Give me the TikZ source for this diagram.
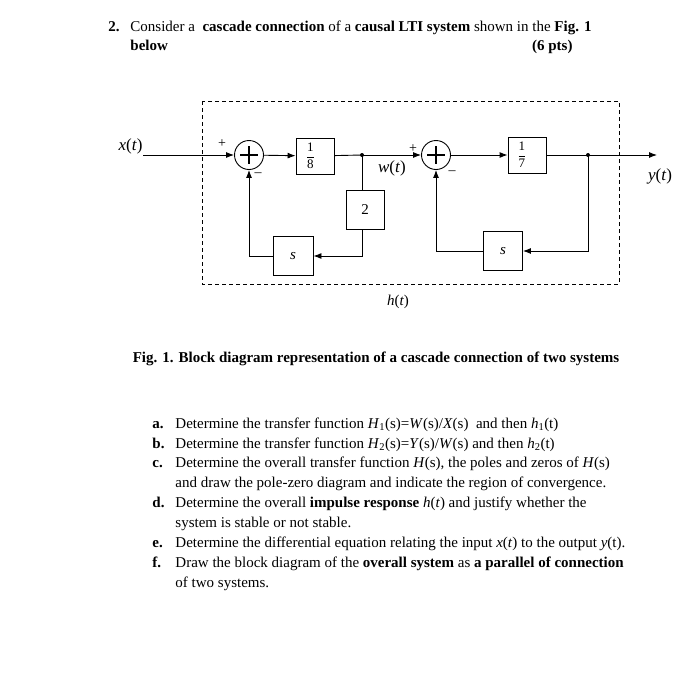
\documentclass[tikz,border=0pt]{standalone}
\usepackage{amsmath}
\usepackage{fontspec}
\setmainfont{Liberation Serif}
\usetikzlibrary{arrows.meta}

\begin{document}
\begin{tikzpicture}[x=1pt,y=-1pt,>={Latex[length=8pt,width=6pt]},line width=0.9pt,
  every node/.style={font=\fontsize{15}{18}\selectfont},
  txt/.style={anchor=base west,inner sep=0pt},
  blk/.style={draw,minimum width=38pt,minimum height=36pt,inner sep=0pt},
  frc/.style={blk,text width=18pt,inner xsep=9pt,align=left,font=\fontsize{13}{15}\selectfont},
  sum/.style={draw,circle,minimum size=29pt,inner sep=0pt,
    path picture={\draw[line width=1.1pt] (path picture bounding box.center) +(-9,0) -- +(9,0)
      (path picture bounding box.center) +(0,-9) -- +(0,9);}},
  sgn/.style={font=\fontsize{14}{16}\selectfont,inner sep=0pt},
  sig/.style={font=\fontsize{17}{19}\selectfont,inner sep=0pt}]
  \useasboundingbox (0,0) rectangle (700,672);

  % question
  \node[txt] (qnum) at (108,31) {\textbf{2.}};
  \node[txt] (qline) at (130,31) {Consider a~ \textbf{cascade connection} of a \textbf{causal LTI system} shown in the \textbf{Fig. 1}};
  \node[txt] (qbelow) at (130,50) {\textbf{below}};
  \node[anchor=base east,inner sep=0pt] (qpts) at (573,50) {\textbf{(6 pts)}};

  % first system
  \coordinate (xin) at (143,155);
  \node[sig,anchor=south east] (xlbl) at (xin) {\textit{x}(\textit{t})};
  \node[sum] (s1) at (249,155) {};
  \node[sgn] (p1) at (222,144) {+};
  \node[sgn] (m1) at (258,175) {--};
  \node[frc] (g1) at (315,156) {$\dfrac{\text{1}}{\rule{0pt}{10pt}\text{8}}$};
  \coordinate (j1) at (362,155);
  \node[blk,minimum height=39pt] (k1) at (365,210) {2};
  \node[blk,minimum width=40pt,minimum height=39pt] (d1) at (293,256) {\textit{s}};

  \draw[->] (xin) -- (s1);
  \draw[->] (s1) -- (g1);
  \draw (g1) -- (j1);
  \draw (j1) -- (j1 |- k1.north);
  \draw[->] (j1 |- k1.south) |- (d1);
  \draw[->] (d1) -| (s1);
  \fill (j1) circle (2pt);

  % second system
  \node[sum] (s2) at (436,155) {};
  \node[sgn] (p2) at (413,149) {+};
  \node[sgn] (m2) at (452,173) {--};
  \node[sig] (wlbl) at (392,168) {\textit{w}(\textit{t})};
  \node[frc,text width=19pt] (g2) at (527,155) {$\dfrac{\text{1}}{\rule{0pt}{10pt}\text{7}}$};
  \coordinate (j2) at (588,155);
  \coordinate (yout) at (657,155);
  \node[sig] (ylbl) at (660,176) {\textit{y}(\textit{t})};
  \node[blk,minimum width=39pt,minimum height=39pt] (d2) at (503,251) {\textit{s}};

  \draw[->] (j1) -- (s2);
  \draw[->] (s2) -- (g2);
  \draw[->] (g2) -- (yout);
  \draw[->] (j2) |- (d2);
  \draw[->] (d2) -| (s2);
  \fill (j2) circle (2pt);

  % overall system
  \draw[dash pattern=on 4pt off 3pt,line width=0.7pt] (202,101) rectangle (619,284);
  \node[sig,font=\fontsize{15}{17}\selectfont] (hlbl) at (398,302) {\textit{h}(\textit{t})};

  \node[anchor=base,inner sep=0pt] (cap) at (376,362) {\textbf{Fig. 1. Block diagram representation of a cascade connection of two systems}};

  % parts
  \foreach \lab/\yy in {a/428,b/448,c/467,d/507,e/547,f/567}
    \node[txt] (lab\lab) at (152,\yy) {\textbf{\lab.}};
  \node[txt] (ta) at (175,428) {Determine the transfer function \textit{H}\textsubscript{1}(s)=\textit{W}(s)/\textit{X}(s)~ and then \textit{h}\textsubscript{1}(t)};
  \node[txt] (tb) at (175,448) {Determine the transfer function \textit{H}\textsubscript{2}(s)=\textit{Y}(s)/\textit{W}(s) and then \textit{h}\textsubscript{2}(t)};
  \node[txt] (tc) at (175,467) {Determine the overall transfer function \textit{H}(s), the poles and zeros of \textit{H}(s)};
  \node[txt] (tc2) at (175,487) {and draw the pole-zero diagram and indicate the region of convergence.};
  \node[txt] (td) at (175,507) {Determine the overall \textbf{impulse response} \textit{h}(\textit{t}) and justify whether the};
  \node[txt] (td2) at (175,527) {system is stable or not stable.};
  \node[txt] (te) at (175,547) {Determine the differential equation relating the input \textit{x}(\textit{t}) to the output \textit{y}(t).};
  \node[txt] (tf) at (175,567) {Draw the block diagram of the \textbf{overall system} as \textbf{a parallel of connection}};
  \node[txt] (tf2) at (175,587) {of two systems.};
\end{tikzpicture}
\end{document}
